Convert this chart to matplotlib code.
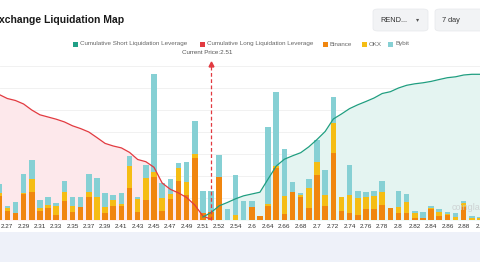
import matplotlib
matplotlib.use("Agg")
import matplotlib.pyplot as plt
from matplotlib.patches import Rectangle, FancyBboxPatch
import numpy as np

plt.rcParams['font.family'] = ['Liberation Sans', 'DejaVu Sans']

# price buckets (every other one is labelled on the axis)
prices = ['2.26', '2.27', '2.28', '2.29', '2.3', '2.31', '2.32', '2.33', '2.34', '2.35',
          '2.36', '2.37', '2.38', '2.39', '2.4', '2.41', '2.42', '2.43', '2.44', '2.45',
          '2.46', '2.47', '2.48', '2.49', '2.5', '2.51', '2.51', '2.52', '2.53', '2.54',
          '2.57', '2.6', '2.62', '2.64', '2.65', '2.66', '2.67', '2.68', '2.69', '2.7',
          '2.71', '2.72', '2.73', '2.74', '2.75', '2.76', '2.77', '2.78', '2.79', '2.8',
          '2.81', '2.82', '2.83', '2.84', '2.85', '2.86', '2.87', '2.88', '2.89', '2.9']

binance = [24, 9, 7, 26, 28, 9, 12.5, 5, 19, 8,
           13, 23, 0, 7, 14.5, 14.5, 32, 8, 20, 43,
           9, 21.5, 39, 25, 62, 7.5, 8, 43, 0, 0,
           0, 13, 4, 14.5, 52, 6, 28, 23, 12, 45,
           14, 67, 9.5, 7, 5, 11, 11, 15, 12.5, 7,
           7, 2.5, 2.5, 11, 4.5, 5, 0, 13.5, 0, 0]
okx = [3, 3, 0, 1, 13, 3, 2.5, 9, 9, 6,
       0, 5, 23, 6, 6, 2, 22, 13, 22, 5.5,
       13, 5, 13, 13.5, 4, 0, 0, 0, 0, 5,
       0, 0, 0, 1.5, 2, 18, 0, 2.5, 20, 13,
       11.5, 30.5, 14, 18.5, 17.5, 12, 13, 13, 0, 6,
       11, 4.5, 0, 1.5, 4, 1, 3.5, 3.5, 2.5, 2]
bybit = [9, 2, 11, 19, 19, 8, 8.5, 3, 11, 9,
         10, 18, 19, 14, 4.5, 11, 10, 2.5, 13, 98,
         15, 15, 5.5, 19.5, 33, 21.5, 21, 22.5, 11, 40,
         19, 6, 0, 77, 74, 47, 10, 1.5, 9, 22,
         25, 25.5, 0, 30, 6.5, 5, 5, 11, 0, 16,
         8.5, 2.5, 6, 1.5, 2.5, 2.5, 4, 2, 1.5, 1]

# cumulative leverage curves (long: left of current price, short: right of it)
long_idx = list(range(0, 27))
long_cum = [125.5, 121.5, 119.5, 116, 110, 105.2, 103, 100.8, 98.1, 94.2,
            91.4, 88, 82.4, 76.6, 74, 72.1, 67.6, 60.5, 58.3, 52.7,
            37, 30.7, 27.1, 22.5, 15, 4, 0.7]
short_idx = list(range(25, 60))
short_cum = [3, 7.5, 14.2, 17.5, 21.2, 24.2, 26, 27.8, 41, 54,
             60.8, 64.2, 67.3, 73.2, 80.5, 88.5, 101, 106, 111.4, 115.2,
             118.5, 122, 126.5, 128.3, 132, 134.7, 136.2, 137.2, 138.6, 140.5,
             142.3, 143.2, 145, 145.7, 145.7]

current_idx = 26.05
current_label = 'Current Price:2.51'

c_binance = '#f0860f'
c_okx = '#f5bd14'
c_bybit = '#86d0d4'
c_long = '#e23a40'
c_short = '#1f9e80'

fig = plt.figure(figsize=(4.8, 2.7), dpi=100)
fig.patch.set_facecolor('white')

# slider band at the bottom
fig.patches.append(Rectangle((0, 8 / 270), 1, 30 / 270, transform=fig.transFigure,
                             facecolor='#eef1f9', edgecolor='none', zorder=0))

ax = fig.add_axes([0, 50 / 270, 1, 157 / 270])
ax.set_facecolor('none')

x = np.arange(len(prices))
b = np.array(binance)
o = np.array(okx)
y = np.array(bybit)

ax.fill_between(long_idx, long_cum, 0, color='#fde8eb', lw=0, zorder=1)
ax.fill_between(short_idx, short_cum, 0, color='#e4f4f1', lw=0, zorder=1)

w = 0.68
ax.bar(x, b, w, color=c_binance, zorder=3)
ax.bar(x, o, w, bottom=b, color=c_okx, zorder=3)
ax.bar(x, y, w, bottom=b + o, color=c_bybit, zorder=3)

ax.plot(long_idx, long_cum, color=c_long, lw=0.9, zorder=5)
ax.plot(short_idx, short_cum, color=c_short, lw=0.9, zorder=5)

# current price marker
ax.plot([current_idx, current_idx], [0, 155], color=c_long, lw=0.9, ls=(0, (3, 2)),
        zorder=6, clip_on=False)
ax.plot([current_idx], [156], marker='^', color=c_long, ms=3.5, zorder=6, clip_on=False)

ax.set_xlim(0.104, 59.0)
ax.set_ylim(0, 157)
ax.set_yticks(np.arange(0, 157, 22))
ax.yaxis.grid(True, color='#efefef', lw=0.6, zorder=0)
ax.set_axisbelow(True)
ax.set_xticks(x[1::2])
ax.set_xticklabels(prices[1::2], fontsize=4.6, color='#333333')
ax.tick_params(axis='x', length=0, pad=3)
ax.tick_params(axis='y', length=0, labelleft=False)
for s in ax.spines.values():
    s.set_visible(False)

# titles and legend
fig.text(124 / 480, 1 - 20 / 270, 'Exchange Liquidation Map', ha='right', va='center',
         fontsize=7.5, fontweight='bold', color='#1a1a1a')
fig.text(207 / 480, 1 - 53 / 270, current_label, ha='center', va='center',
         fontsize=4.5, color='#555555')

legend = [('Cumulative Short Liquidation Leverage', '#21a087', 73),
          ('Cumulative Long Liquidation Leverage', c_long, 200),
          ('Binance', c_binance, 323),
          ('OKX', c_okx, 362),
          ('Bybit', c_bybit, 388)]
for label, col, px in legend:
    fig.patches.append(Rectangle((px / 480, 1 - 46.5 / 270), 5 / 480, 5 / 270,
                                 transform=fig.transFigure, facecolor=col, edgecolor='none'))
    fig.text((px + 7) / 480, 1 - 44 / 270, label, ha='left', va='center',
             fontsize=4.5, color='#666666')

# selector boxes
for x0, x1, txt in [(373, 428, 'REND...'), (435, 486, '7 day')]:
    fig.patches.append(FancyBboxPatch((x0 / 480, 1 - 31 / 270), (x1 - x0) / 480, 22 / 270,
                                      boxstyle='round,pad=0,rounding_size=0.01',
                                      transform=fig.transFigure, facecolor='#f2f3f5',
                                      edgecolor='#e6e8eb', lw=0.5))
    fig.text((x0 + 7) / 480, 1 - 20 / 270, txt, ha='left', va='center',
             fontsize=5.3, color='#333333')
fig.text(418 / 480, 1 - 20 / 270, '\u25be', ha='center', va='center', fontsize=4.5,
         color='#555555', family=['DejaVu Sans'])

# watermark
fig.text(452 / 480, 1 - 208 / 270, 'coinglass', ha='left', va='center', fontsize=6.5,
         color='#c8cacc', alpha=0.8, zorder=10)

fig.savefig('out.png', dpi=100)
